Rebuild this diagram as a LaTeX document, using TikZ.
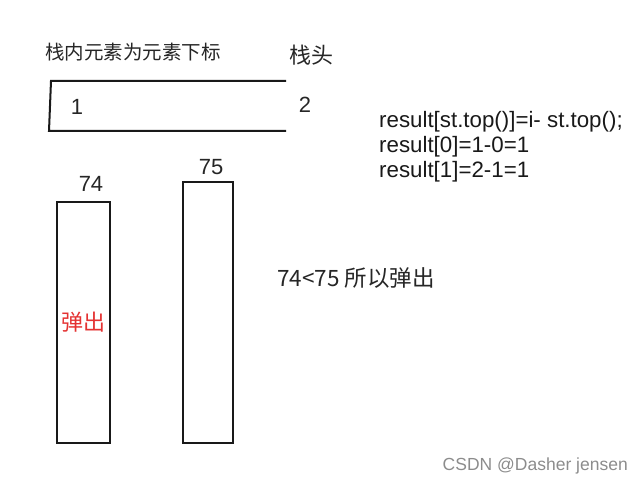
\documentclass[tikz,border=0pt]{standalone}
\usepackage{fontspec}
\setmainfont{Liberation Sans}
\newfontfamily\cjk{Noto Sans CJK SC}
\usetikzlibrary{positioning}

\tikzset{
	num/.style={font=\fontsize{22}{26}\selectfont, text=black!85, inner sep=0pt},
	zh/.style={font=\cjk\fontsize{22}{26}\selectfont, text=black!85, inner sep=0pt},
	box/.style={draw=black!90, line width=2pt, minimum width=53pt, inner sep=0pt},
}
\definecolor{popred}{RGB}{228,50,50}

\begin{document}
\begin{tikzpicture}[x=1pt,y=-1pt]
	\useasboundingbox (0,0) rectangle (642,486);

	% stack drawn as an open box
	\coordinate (ta) at (51,81);
	\coordinate (tb) at (286,81);
	\coordinate (ba) at (49,131);
	\coordinate (bb) at (286,131);
	\draw[line width=2pt, black!90] (tb) -- (ta) -- (ba) -- (bb);

	\node[zh, font=\cjk\fontsize{19.5}{22}\selectfont, anchor=west] (title) at (45,52) {栈内元素为元素下标};
	\node[zh, anchor=west] (head) at (289,55) {栈头};
	\node[num] (one) at (77,107) {1};
	\node[num] (two) at (305,105) {2};

	\node[anchor=north west, align=left, font=\fontsize{22.3}{25}\selectfont, text=black!90, inner sep=0pt] (code) at (379,111)
		{result[st.top()]=i- st.top();\\result[0]=1-0=1\\result[1]=2-1=1};

	% the two bars
	\node[box, minimum width=53pt, minimum height=241pt] (bar74) at (83.5,322.5) {};
	\node[box, minimum width=50pt, minimum height=261pt] (bar75) at (208,312.5) {};
	\node[num] (n74) at (91,184) {74};
	\node[num] (n75) at (211,167) {75};
	\node[zh, text=popred] (pop) at (bar74) {弹出};

	\node[zh, font=\cjk\fontsize{22.5}{26}\selectfont, anchor=west] (cmp) at (277,278) {74<75 所以弹出};

	\node[font=\fontsize{17.5}{20}\selectfont, text=black!45, anchor=east, inner sep=0pt] (mark) at (628,466) {CSDN @Dasher jensen};
\end{tikzpicture}
\end{document}
